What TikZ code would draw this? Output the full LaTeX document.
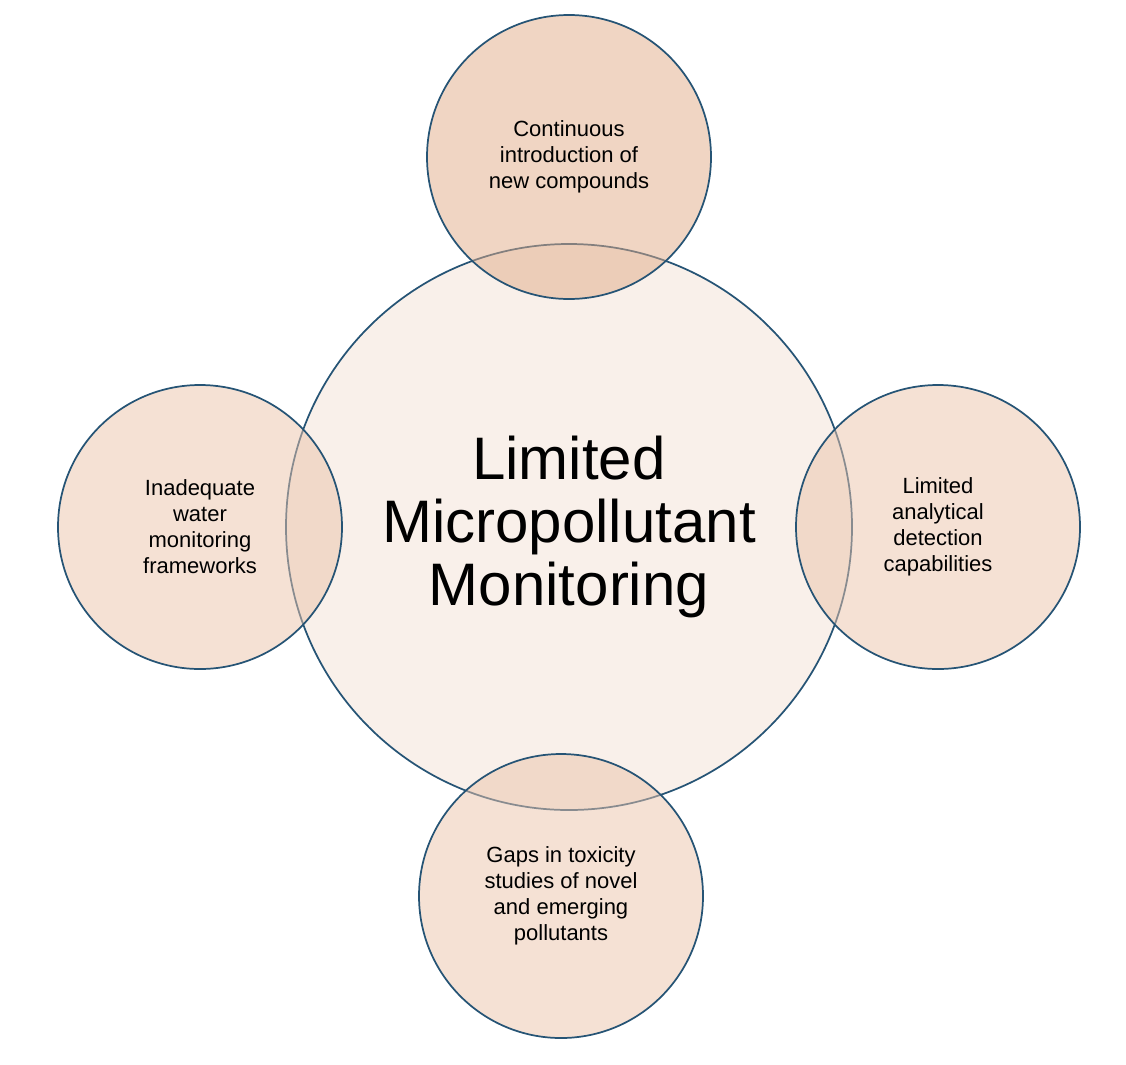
\documentclass[tikz,border=0pt]{standalone}
\usepackage{fontspec}
\setmainfont{Liberation Sans}
\usetikzlibrary{positioning}
\definecolor{rim}{RGB}{38,84,117}
\definecolor{core}{RGB}{249,240,234}
\definecolor{petal}{RGB}{235,195,170}
\definecolor{petaltop}{RGB}{225,171,135}

\begin{document}
\begin{tikzpicture}[x=0.75pt,y=-0.75pt,
 hub/.style={circle,draw=rim,line width=1.3pt,fill=core,minimum size=424.5pt,inner sep=0pt,align=center,font=\fontsize{45}{47}\selectfont},
 sat/.style={circle,draw=rim,line width=1.3pt,fill=petal,fill opacity=0.5,text opacity=1,draw opacity=1,minimum size=213pt,inner sep=0pt,align=center,font=\fontsize{16.5}{19.5}\selectfont}]
 \useasboundingbox (0,0) rectangle (1126,1064);
 \node[hub](main) at (569,527){Limited\\Micropollutant\\Monitoring};
 \node[sat,fill=petaltop](top) at (569,157){Continuous\\introduction of\\new compounds};
 \node[sat](left) at (200,527){Inadequate\\water\\monitoring\\frameworks};
 \node[sat](right) at (938,527){Limited\\analytical\\detection\\capabilities};
 \node[sat](bottom) at (561,896){Gaps in toxicity\\studies of novel\\and emerging\\pollutants};
\end{tikzpicture}
\end{document}
